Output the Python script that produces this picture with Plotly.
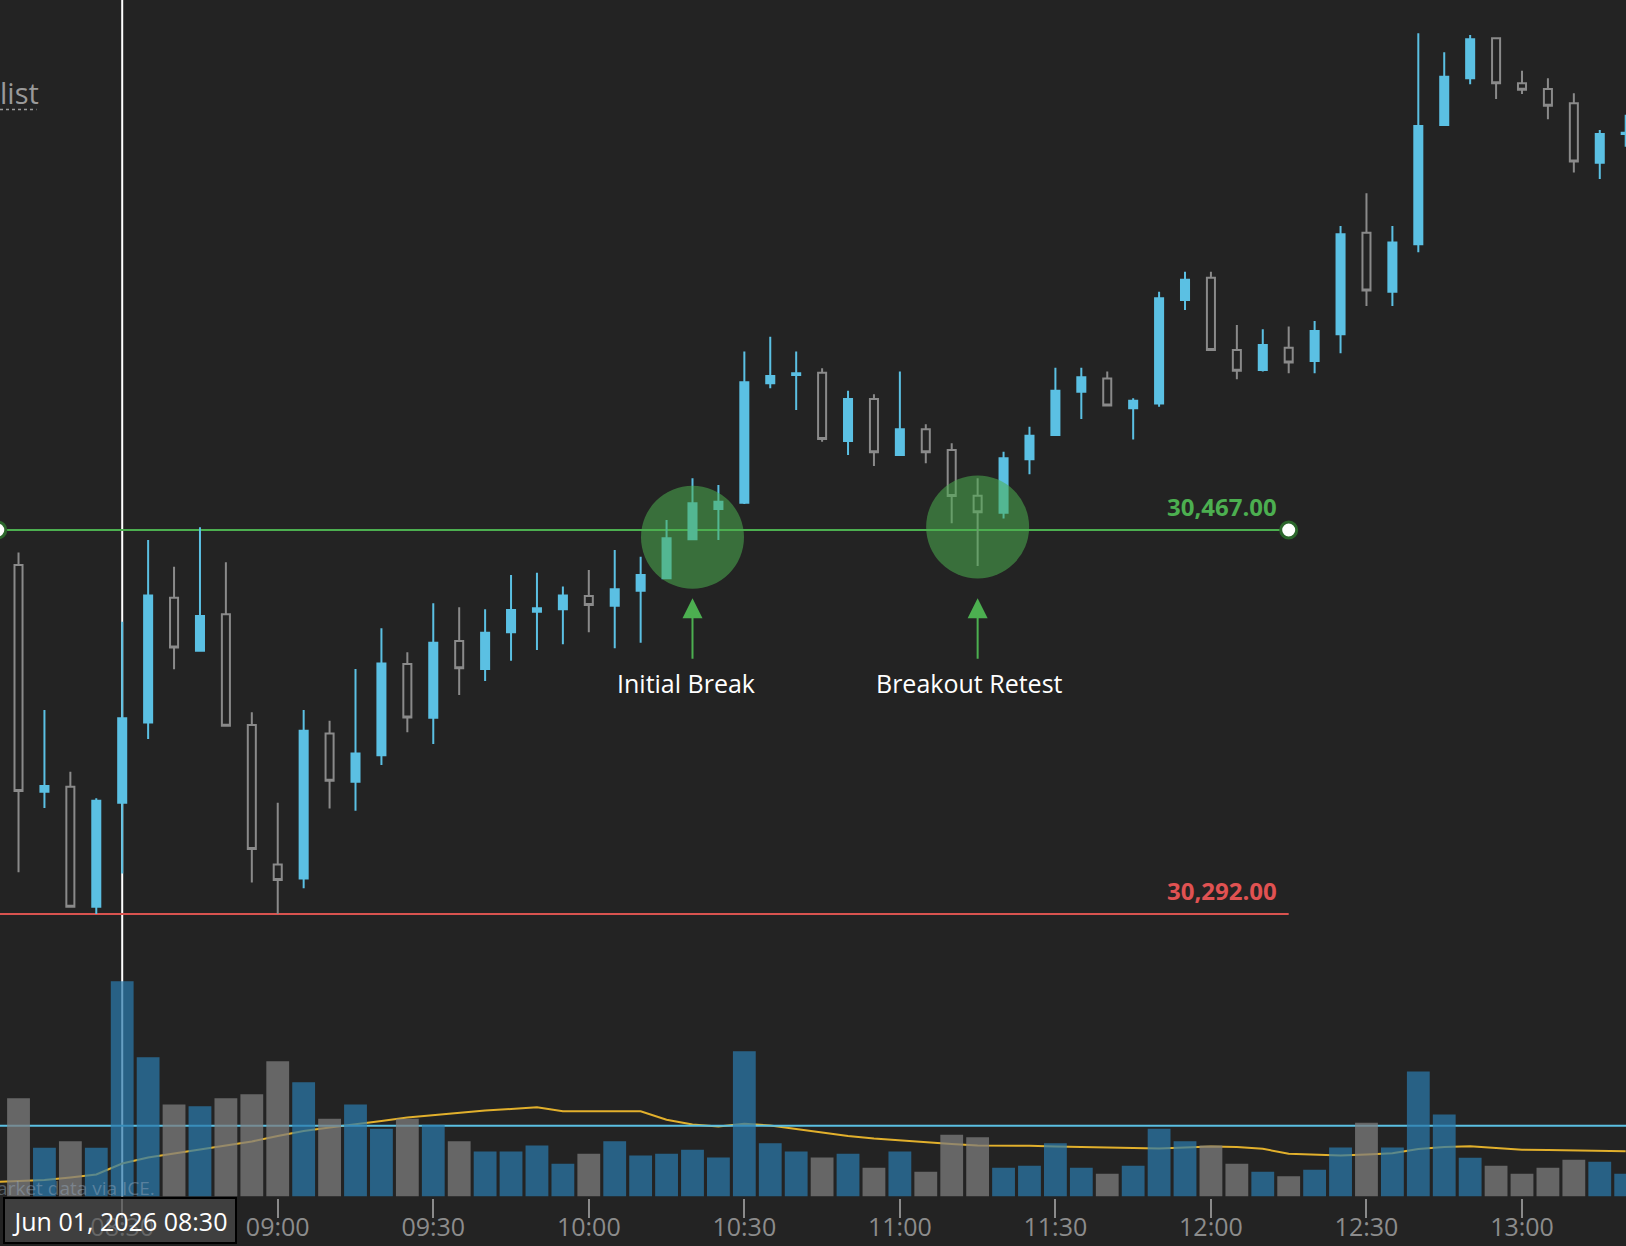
import plotly.graph_objects as go

DAY = "2026-06-01"

# ---------------- data (5-minute candles) ----------------
times = ["08:10", "08:15", "08:20", "08:25", "08:30", "08:35", "08:40", "08:45", "08:50", "08:55",
         "09:00", "09:05", "09:10", "09:15", "09:20", "09:25", "09:30", "09:35", "09:40", "09:45",
         "09:50", "09:55", "10:00", "10:05", "10:10", "10:15", "10:20", "10:25", "10:30", "10:35",
         "10:40", "10:45", "10:50", "10:55", "11:00", "11:05", "11:10", "11:15", "11:20", "11:25",
         "11:30", "11:35", "11:40", "11:45", "11:50", "11:55", "12:00", "12:05", "12:10", "12:15",
         "12:20", "12:25", "12:30", "12:35", "12:40", "12:45", "12:50", "12:55", "13:00", "13:05",
         "13:10", "13:15", "13:20"]

opens = [30451.0, 30347.7, 30350.0, 30295.3, 30342.7, 30379.3, 30436.1, 30412.0, 30428.6, 30378.1,
         30314.6, 30308.2, 30374.3, 30352.3, 30364.4, 30405.9, 30381.4, 30416.4, 30403.6, 30420.4,
         30429.8, 30430.9, 30436.9, 30432.5, 30439.3, 30445.0, 30462.8, 30476.6, 30479.4, 30533.9,
         30537.6, 30538.7, 30507.6, 30526.7, 30501.2, 30512.9, 30503.5, 30482.6, 30474.9, 30499.2,
         30510.3, 30530.0, 30536.1, 30522.5, 30524.7, 30571.8, 30582.0, 30549.0, 30539.9, 30550.1,
         30544.0, 30556.2, 30602.5, 30575.6, 30597.2, 30651.6, 30672.9, 30691.1, 30670.6, 30668.0,
         30661.5, 30634.4, 30647.5]
highs = [30456.8, 30385.0, 30356.8, 30344.7, 30425.2, 30462.4, 30450.3, 30468.2, 30452.3, 30383.9,
         30342.7, 30385.0, 30380.1, 30403.6, 30422.2, 30411.3, 30433.6, 30431.8, 30430.9, 30446.5,
         30447.5, 30441.2, 30448.8, 30457.9, 30454.8, 30471.6, 30490.6, 30487.5, 30548.3, 30555.1,
         30548.3, 30540.7, 30530.5, 30528.9, 30539.2, 30515.2, 30506.5, 30490.6, 30502.7, 30514.1,
         30541.0, 30541.0, 30539.2, 30527.0, 30575.6, 30584.7, 30584.7, 30560.4, 30558.5, 30559.7,
         30562.3, 30605.6, 30620.5, 30605.6, 30693.4, 30684.7, 30692.6, 30691.5, 30676.3, 30672.9,
         30666.0, 30649.3, 30656.2]
lows = [30311.0, 30340.3, 30295.0, 30292.0, 30310.5, 30371.7, 30403.5, 30412.0, 30377.8, 30306.4,
        30292.0, 30303.7, 30340.1, 30339.1, 30359.9, 30374.8, 30369.5, 30391.8, 30398.2, 30407.4,
        30412.3, 30414.9, 30420.4, 30413.1, 30415.6, 30445.0, 30462.8, 30462.4, 30478.9, 30531.6,
        30521.7, 30507.2, 30501.2, 30496.2, 30501.2, 30497.4, 30470.1, 30450.6, 30472.3, 30492.4,
        30510.3, 30517.6, 30523.7, 30508.3, 30523.2, 30567.3, 30549.0, 30535.7, 30539.2, 30538.4,
        30538.4, 30547.5, 30569.1, 30569.1, 30593.6, 30651.6, 30670.1, 30663.4, 30665.7, 30654.2,
        30629.9, 30627.0, 30641.7]
closes = [30348.0, 30350.3, 30295.3, 30343.6, 30381.2, 30437.1, 30413.4, 30427.8, 30377.8, 30321.6,
          30307.5, 30375.5, 30352.7, 30365.2, 30406.2, 30381.6, 30415.6, 30404.0, 30420.2, 30430.5,
          30431.3, 30437.2, 30432.8, 30440.0, 30446.5, 30463.2, 30479.2, 30479.9, 30534.3, 30537.2,
          30538.4, 30508.5, 30526.7, 30502.4, 30512.9, 30502.4, 30482.5, 30475.1, 30499.7, 30510.0,
          30530.5, 30536.6, 30523.7, 30525.9, 30572.6, 30581.0, 30549.0, 30539.6, 30551.3, 30543.3,
          30557.7, 30601.8, 30576.1, 30598.0, 30651.1, 30673.6, 30690.7, 30670.6, 30667.6, 30660.3,
          30634.9, 30647.5, 30648.0]
volumes = [983, 487, 553, 487, 2153, 1393, 920, 903, 983, 1023,
           1353, 1143, 777, 920, 677, 777, 717, 553, 450, 450,
           510, 327, 427, 553, 410, 427, 467, 390, 1453, 533,
           450, 390, 427, 287, 450, 247, 617, 593, 287, 307,
           533, 287, 227, 307, 677, 553, 510, 327, 247, 203,
           267, 490, 737, 490, 1250, 820, 387, 307, 227, 287,
           367, 347, 227]

# volume moving average (yellow line)
ma_times = ["08:05"] + times
vol_ma = [145, 155, 165, 190, 220, 330, 390, 430, 470, 510, 550,
          605, 655, 690, 720, 755, 790, 815, 840, 860, 875,
          893, 853, 853, 853, 853, 767, 720, 700, 727, 710,
          675, 640, 605, 580, 560, 540, 525, 510, 510, 507,
          500, 495, 490, 480, 480, 490, 500, 495, 477, 427,
          415, 410, 420, 433, 475, 495, 503, 485, 467, 465,
          460, 455, 453]
avg_volume = 707

resistance = 30467.00
support = 30292.00
level_start = "08:06"
level_end = "12:15"
crosshair_time = "08:30"

tick_times = ["08:30", "09:00", "09:30", "10:00", "10:30", "11:00", "11:30", "12:00", "12:30", "13:00"]

events = [("10:20", 30463.7, 30435.9, "Initial Break", -6),
          ("11:15", 30468.4, 30435.9, "Breakout Retest", -8)]

# ---------------- styling ----------------
BG = "#232323"
UP = "#5bc0e3"
DOWN = "#8a8a8a"
GREEN = "#4caf50"
RED = "#d9534f"
FONT = "Open Sans"

def ts(t):
    return f"{DAY} {t}"

x = [ts(t) for t in times]
vcolors = ["rgba(43,122,172,0.72)" if c >= o else "rgba(125,125,125,0.75)" for o, c in zip(opens, closes)]

fig = go.Figure()

# volume panel
fig.add_trace(go.Scatter(x=[ts(t) for t in ma_times], y=vol_ma, yaxis="y2", mode="lines",
                         line=dict(color="#e2b02c", width=2), hoverinfo="skip", zorder=0))
fig.add_trace(go.Scatter(x=[ts("08:00"), ts("13:30")], y=[avg_volume, avg_volume], yaxis="y2",
                         mode="lines", line=dict(color=UP, width=2), hoverinfo="skip", zorder=0))
fig.add_trace(go.Bar(x=x, y=volumes, yaxis="y2", width=264000,
                     marker=dict(color=vcolors, line=dict(width=0)), hoverinfo="skip", zorder=1))

# level lines
fig.add_trace(go.Scatter(x=[ts(level_start), ts(level_end)], y=[support, support], mode="lines",
                         line=dict(color=RED, width=2), hoverinfo="skip", zorder=0))
fig.add_trace(go.Scatter(x=[ts(level_start), ts(level_end)], y=[resistance, resistance], mode="lines",
                         line=dict(color=GREEN, width=2), hoverinfo="skip", zorder=0))

# candles
fig.add_trace(go.Candlestick(
    x=x, open=opens, high=highs, low=lows, close=closes,
    increasing=dict(line=dict(color=UP, width=2), fillcolor=UP),
    decreasing=dict(line=dict(color=DOWN, width=2), fillcolor="rgba(0,0,0,0)"),
    whiskerwidth=0, hoverinfo="skip", zorder=1))

# level handles
fig.add_trace(go.Scatter(x=[ts(level_start), ts(level_end)], y=[resistance, resistance], mode="markers",
                         marker=dict(size=16, color="white", line=dict(color="#2c662c", width=3)),
                         hoverinfo="skip", zorder=2))

shapes = []
annotations = []

# crosshair
shapes.append(dict(type="line", xref="x", yref="paper", x0=ts(crosshair_time), x1=ts(crosshair_time),
                   y0=1 - 1196.5 / 1246, y1=1, line=dict(color="white", width=2), layer="below"))

for t, cy, tip, label, dx in events:
    shapes.append(dict(type="circle", xref="x", yref="y", xsizemode="pixel", ysizemode="pixel",
                       xanchor=ts(t), yanchor=cy, x0=-51.5, x1=51.5, y0=-51.5, y1=51.5,
                       fillcolor="rgba(76,175,80,0.55)", line=dict(width=0), layer="above"))
    annotations.append(dict(x=ts(t), y=tip, xref="x", yref="y", text="", showarrow=True,
                            ax=0, ay=62, arrowhead=2, arrowsize=2, arrowwidth=2, arrowcolor=GREEN,
                            standoff=0))
    annotations.append(dict(x=ts(t), y=tip, xref="x", yref="y", text=label, showarrow=False,
                            xanchor="center", yanchor="middle", xshift=dx, yshift=-84.5,
                            font=dict(family=FONT, size=25, color="white")))

annotations.append(dict(x=ts(level_end), y=resistance, xref="x", yref="y", text=f"{resistance:,.2f}",
                        showarrow=False, xanchor="right", yanchor="middle", xshift=-10, yshift=23.5,
                        font=dict(family=FONT, size=24, color=GREEN, weight="bold")))
annotations.append(dict(x=ts(level_end), y=support, xref="x", yref="y", text=f"{support:,.2f}",
                        showarrow=False, xanchor="right", yanchor="middle", xshift=-10, yshift=23.5,
                        font=dict(family=FONT, size=24, color="#e05252", weight="bold")))

# header fragment
annotations.append(dict(x=0, y=1 - 93 / 1246, xref="paper", yref="paper", text="list", showarrow=False,
                        xanchor="left", yanchor="middle", xshift=-2,
                        font=dict(family=FONT, size=29, color="#9a9a9a")))
shapes.append(dict(type="line", xref="paper", yref="paper", x0=0, x1=36.5 / 1626,
                   y0=1 - 109.5 / 1246, y1=1 - 109.5 / 1246,
                   line=dict(color="#9a9a9a", width=1.5, dash="dot"), layer="above"))

# watermark
annotations.append(dict(x=157 / 1626, y=1 - 1187.5 / 1246, xref="paper", yref="paper",
                        text="Market data via ICE.", showarrow=False, xanchor="right", yanchor="middle",
                        font=dict(family=FONT, size=19, color="rgba(150,170,190,0.45)")))

# crosshair date box
annotations.append(dict(x=120.3 / 1626, y=1 - 1220.7 / 1246, xref="paper", yref="paper",
                        text=f"Jun 01, 2026 {crosshair_time}", showarrow=False,
                        xanchor="center", yanchor="middle", width=228, height=41,
                        bgcolor="rgba(80,80,80,0.62)", bordercolor="#000000", borderwidth=2, borderpad=1,
                        font=dict(family=FONT, size=25, color="white")))

fig.update_layout(
    width=1626, height=1246,
    margin=dict(l=0, r=0, t=0, b=0, autoexpand=False),
    paper_bgcolor=BG, plot_bgcolor="rgba(0,0,0,0)",
    showlegend=False, hovermode=False,
    boxgap=0.69, boxgroupgap=0,
    font=dict(family=FONT, color="#8c8c8c"),
    xaxis=dict(type="date", range=[ts("08:06:25.7"), ts("13:20:03.6")], anchor="y2",
               automargin=False,
               rangeslider=dict(visible=False), showgrid=False, zeroline=False,
               showline=True, linecolor="#8a8a8a", linewidth=2,
               ticks="outside", ticklen=19, tickwidth=2, tickcolor="#8a8a8a",
               ticklabelstandoff=-12,
               tickvals=[ts(t) for t in tick_times], ticktext=tick_times,
               tickfont=dict(family=FONT, size=25, color="#8c8c8c")),
    yaxis=dict(domain=[1 - 930 / 1246, 1], range=[30284.71, 30708.54], visible=False,
               showgrid=False, zeroline=False, automargin=False),
    yaxis2=dict(domain=[1 - 1196.5 / 1246, 1 - 940 / 1246], range=[0, 2565], visible=False,
                showgrid=False, zeroline=False, automargin=False),
    shapes=shapes, annotations=annotations,
)

fig.write_html("out.html", config={"displayModeBar": False})
